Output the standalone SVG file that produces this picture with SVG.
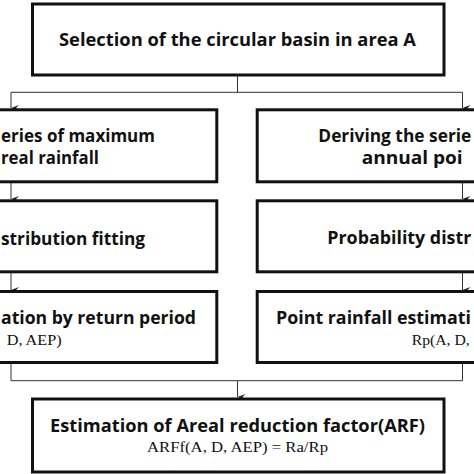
<svg xmlns="http://www.w3.org/2000/svg" width="474" height="474" viewBox="0 0 474 474">
  <defs>
    <marker id="arr" markerUnits="userSpaceOnUse" markerWidth="6" markerHeight="8" refX="3" refY="8" orient="auto-start-reverse" viewBox="0 0 6 8">
      <path d="M0,0 L3,8 L6,0 L3,3 Z" fill="#222"/>
    </marker>
    <style>
      .box { fill: #fff; stroke: #111; stroke-width: 3; }
      .t { font-family: "Open Sans", "Noto Sans", "Liberation Sans", sans-serif; font-weight: 700; font-size: 17.5px; fill: #111; }
      .s { font-family: "Liberation Serif", "Times New Roman", serif; font-size: 15px; fill: #111; }
      .c { fill: none; stroke: #333; stroke-width: 1; }
    </style>
  </defs>
  <rect width="474" height="474" fill="#fff"/>

  <g id="connectors">
    <path class="c" d="M237.5,76 V92.3"/>
    <path class="c" d="M11,92.3 H462.5"/>
    <path class="c" d="M11,92.3 V108" marker-end="url(#arr)"/>
    <path class="c" d="M462.5,92.3 V108" marker-end="url(#arr)"/>
    <path class="c" d="M11,183 V199" marker-end="url(#arr)"/>
    <path class="c" d="M462.5,183 V199" marker-end="url(#arr)"/>
    <path class="c" d="M11,273 V290" marker-end="url(#arr)"/>
    <path class="c" d="M462.5,273 V290" marker-end="url(#arr)"/>
    <path class="c" d="M11,364 V380.7 H462.5 V364"/>
    <path class="c" d="M237.5,380.7 V397" marker-end="url(#arr)"/>
  </g>

  <g id="n-top">
    <rect class="box" x="32.5" y="4" width="411.5" height="71"/>
    <text class="t" x="237.5" y="46" text-anchor="middle" textLength="357" lengthAdjust="spacingAndGlyphs">Selection of the circular basin in area A</text>
  </g>

  <g id="n-left1">
    <rect class="box" x="-20" y="109.8" width="236.8" height="72"/>
    <text class="t" x="155" y="141.7" text-anchor="end" textLength="154" lengthAdjust="spacingAndGlyphs">eries of maximum</text>
    <text class="t" x="99" y="164.3" text-anchor="end" textLength="98" lengthAdjust="spacingAndGlyphs">real rainfall</text>
  </g>
  <g id="n-left2">
    <rect class="box" x="-20" y="200.8" width="236.8" height="71"/>
    <text class="t" x="145" y="245" text-anchor="end" textLength="144" lengthAdjust="spacingAndGlyphs">stribution fitting</text>
  </g>
  <g id="n-left3">
    <rect class="box" x="-20" y="291.5" width="236.8" height="71"/>
    <text class="t" x="196" y="324.3" text-anchor="end" textLength="195" lengthAdjust="spacingAndGlyphs">ation by return period</text>
    <text class="s" x="61.7" y="345" text-anchor="end" textLength="55" lengthAdjust="spacingAndGlyphs">D, AEP)</text>
  </g>

  <g id="n-right1">
    <rect class="box" x="257.2" y="109.8" width="240" height="72"/>
    <text class="t" x="318.3" y="141.7" textLength="153" lengthAdjust="spacingAndGlyphs">Deriving the serie</text>
    <text class="t" x="361.7" y="164.3" textLength="101" lengthAdjust="spacingAndGlyphs">annual poi</text>
  </g>
  <g id="n-right2">
    <rect class="box" x="257.2" y="200.8" width="240" height="71"/>
    <text class="t" x="327.3" y="244" textLength="144" lengthAdjust="spacingAndGlyphs">Probability distr</text>
  </g>
  <g id="n-right3">
    <rect class="box" x="257.2" y="291.5" width="240" height="71"/>
    <text class="t" x="276" y="324.3" textLength="195" lengthAdjust="spacingAndGlyphs">Point rainfall estimati</text>
    <text class="s" x="411.7" y="345" textLength="58" lengthAdjust="spacingAndGlyphs">Rp(A,  D,</text>
  </g>

  <g id="n-bottom">
    <rect class="box" x="32.5" y="399" width="411.5" height="73"/>
    <text class="t" x="237.5" y="431.7" text-anchor="middle" textLength="375" lengthAdjust="spacingAndGlyphs">Estimation of Areal reduction factor(ARF)</text>
    <text class="s" x="237.5" y="452" text-anchor="middle" textLength="181" lengthAdjust="spacingAndGlyphs">ARFf(A,  D, AEP) = Ra/Rp</text>
  </g>
</svg>
